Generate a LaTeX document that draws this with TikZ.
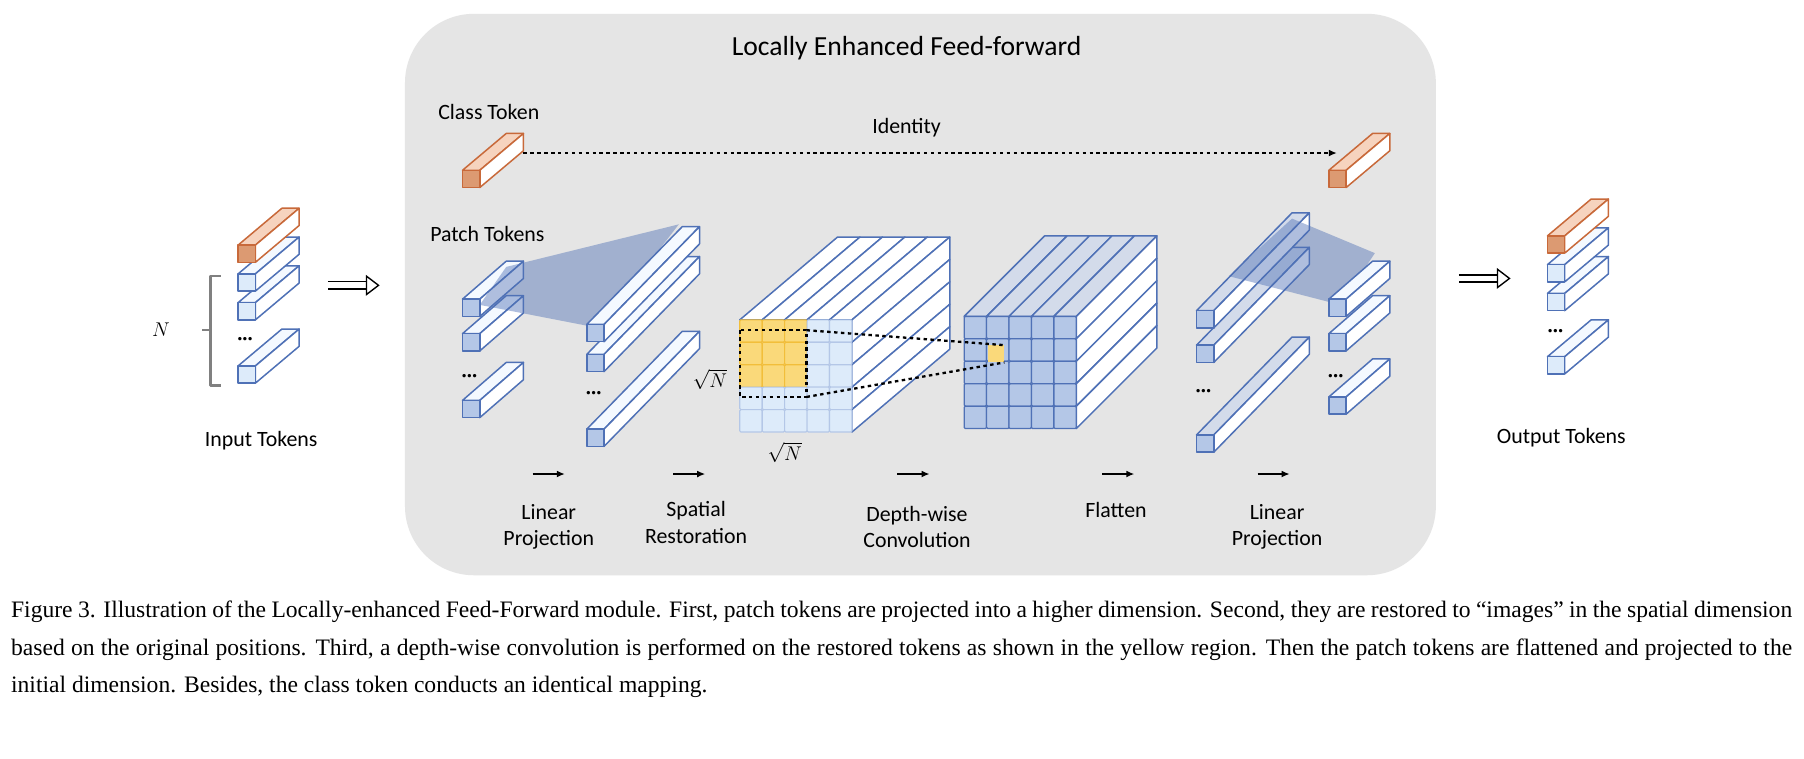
\documentclass[tikz,border=0pt]{standalone}
\usepackage{fontspec}
\setmainfont{Liberation Serif}
\newfontfamily\carl{Carlito}
\usetikzlibrary{arrows.meta,decorations.pathreplacing}
\definecolor{bl}{HTML}{4F71B6}
\definecolor{bfr}{HTML}{B4C7E7}
\definecolor{bli}{HTML}{DDEBFA}
\definecolor{bwh}{HTML}{F4F9FF}
\definecolor{or}{HTML}{C8693A}
\definecolor{ofr}{HTML}{DC9A72}
\definecolor{oli}{HTML}{F6D3BE}
\definecolor{ye}{HTML}{FAD97A}
\definecolor{yed}{HTML}{F2BE3A}
\definecolor{fl}{HTML}{D3DBEA}
\newcommand\tok[9]{%
 \filldraw[draw=#9,fill=#7] (#1,#2)--++(#4,#5)--++(#3,0)--(#1+#3,#2)--cycle;
 \filldraw[draw=#9,fill=#8] (#1+#3,#2)--++(#4,#5)--++(0,#3)--(#1+#3,#2+#3)--cycle;
 \filldraw[draw=#9,fill=#6] (#1,#2) rectangle ++(#3,#3);}
\newcommand\btok[4]{\tok{#1}{#2}{15}{#3}{#4}{bfr}{bwh}{white}{bl}}
\newcommand\itok[2]{\tok{#1}{#2}{15}{38}{-32}{bli}{bwh}{white}{bl}}
\newcommand\otok[2]{\tok{#1}{#2}{15}{38}{-32}{ofr}{oli}{white}{or}}
\begin{document}
\begin{tikzpicture}[x=1pt,y=-1pt,line width=1.3pt,line join=round,
 lab/.style={font=\carl\fontsize{19}{23}\selectfont,align=center},
 dots/.style={font=\bfseries\fontsize{18}{18}\selectfont},
 sarr/.style={-{Latex[length=7pt,width=6pt]},line width=1.6pt},
 harr/.style={-{Triangle[open,length=12pt,width=18pt]},line width=1.2pt,double distance=5pt}]
\useasboundingbox (0,0) rectangle (1568,659);
\fill[white] (0,0) rectangle (1568,659);
\fill[gray!20,rounded corners=60pt] (352,12) rectangle (1248,500);
\node[lab,font=\carl\fontsize{24}{28}\selectfont] (title) at (788,42) {Locally Enhanced Feed-forward};
% class tokens
\node[lab,anchor=west] (ct) at (377,97) {Class Token};
\otok{402}{148}
\otok{1155}{148}
\coordinate (ida) at (455,133); \coordinate (idb) at (1162,133);
\draw[sarr,dashed,line width=1.4pt] (ida) -- (idb);
\node[lab] (id) at (788,111) {Identity};
% input tokens
\itok{207}{318}\itok{207}{263}\itok{207}{238}\otok{207}{213}
\node[dots] (d0) at (213,295) {...};
\draw[gray,line width=2pt] (192,240) -- (183,240) -- (183,335) -- (192,335) (183,287) -- (176,287);
\node[lab,font=\itshape\fontsize{19}{23}\selectfont] (N) at (140,287) {$N$};
\node[lab] (it) at (227,383) {Input Tokens};
\draw[harr] (285,248) -- (330,248);
% patch tokens col1
\node[lab,anchor=west] (pt) at (370,203) {Patch Tokens};
\btok{402}{348}{38}{-33}\btok{402}{290}{38}{-33}\btok{402}{260}{38}{-33}
\node[dots] (d1) at (408,327) {...};
\fill[bl,opacity=.45] (417,265) -- (440,232) -- (590,195) -- (520,285) -- cycle;
% col2
\btok{510}{373}{83}{-85}\btok{510}{308}{83}{-85}\btok{510}{282}{83}{-85}
\node[dots] (d2) at (516,342) {...};
% cube1
\def\c{19.5}
\foreach \i in {0,...,4}{
  \filldraw[draw=bl,fill=white] (643+\i*\c,278) -- ++(85,-72) -- ++(\c,0) -- (643+\i*\c+\c,278) -- cycle;}
\foreach \j in {0,...,4}{
  \filldraw[draw=bl,fill=white] (740.5,278+\j*\c) -- ++(85,-72) -- ++(0,\c) -- (740.5,278+\j*\c+\c) -- cycle;}
\foreach \i in {0,...,4}\foreach \j in {0,...,4}{
  \pgfmathsetmacro\isy{and(\i<3,\j<3)}
  \ifdim\isy pt>0.5pt
   \filldraw[draw=yed,fill=ye,line width=1pt,rounded corners=1pt] (643+\i*\c,278+\j*\c) rectangle ++(\c,\c);
  \else
   \filldraw[draw=bfr,fill=bli,line width=1pt,rounded corners=1pt] (643+\i*\c,278+\j*\c) rectangle ++(\c,\c);
  \fi}
\draw[dashed,line width=2pt] (643,287) rectangle (701,345);
\node[lab,font=\fontsize{18}{20}\selectfont] (sq1) at (617,330) {$\sqrt{N}$};
\node[lab,font=\fontsize{18}{20}\selectfont] (sq2) at (682,393) {$\sqrt{N}$};
% cube2
\foreach \i in {0,...,4}{
  \filldraw[draw=bl,fill=fl] (838+\i*\c,275) -- ++(70,-70) -- ++(\c,0) -- (838+\i*\c+\c,275) -- cycle;}
\foreach \j in {0,...,4}{
  \filldraw[draw=bl,fill=white] (935.5,275+\j*\c) -- ++(70,-70) -- ++(0,\c) -- (935.5,275+\j*\c+\c) -- cycle;}
\foreach \i in {0,...,4}\foreach \j in {0,...,4}{
  \filldraw[draw=bl,fill=bfr,line width=1.1pt,rounded corners=1pt] (838+\i*\c,275+\j*\c) rectangle ++(\c,\c);}
\fill[ye] (859,300) rectangle (873,315);
\draw[dashed,line width=2pt] (701,287) -- (873,300) (701,345) -- (873,315);
% flatten col
\tok{1040}{378}{15}{83}{-85}{bfr}{fl}{white}{bl}
\tok{1040}{300}{15}{83}{-85}{bfr}{fl}{white}{bl}
\tok{1040}{270}{15}{83}{-85}{bfr}{fl}{white}{bl}
\node[dots] (d3) at (1046,340) {...};
\fill[bl,opacity=.45] (1068,240) -- (1123,190) -- (1195,220) -- (1165,265) -- cycle;
\btok{1155}{345}{38}{-33}\btok{1155}{290}{38}{-33}\btok{1155}{260}{38}{-33}
\node[dots] (d4) at (1161,327) {...};
% output tokens
\draw[harr] (1268,242) -- (1313,242);
\itok{1345}{310}\itok{1345}{255}\itok{1345}{230}\otok{1345}{205}
\node[dots] (d5) at (1352,288) {...};
\node[lab] (ot) at (1357,380) {Output Tokens};
% arrows and labels
\foreach \x in {463,585,780,958,1093}{\draw[sarr] (\x,412) -- ++(28,0);}
\node[lab] (l1) at (477,458) {Linear\\Projection};
\node[lab] (l2) at (605,454) {Spatial\\Restoration};
\node[lab] (l3) at (797,458) {Depth-wise\\Convolution};
\node[lab] (l4) at (970,443) {Flatten};
\node[lab] (l5) at (1110,458) {Linear\\Projection};
% caption
\node[anchor=north west,text width=1548pt,align=justify,inner sep=0pt,font=\fontsize{20.5}{32.5}\selectfont] (cap) at (9,522) {Figure 3. Illustration of the Locally-enhanced Feed-Forward module. First, patch tokens are projected into a higher dimension. Second, they are restored to ``images'' in the spatial dimension based on the original positions. Third, a depth-wise convolution is performed on the restored tokens as shown in the yellow region. Then the patch tokens are flattened and projected to the initial dimension. Besides, the class token conducts an identical mapping.};
\end{tikzpicture}
\end{document}
